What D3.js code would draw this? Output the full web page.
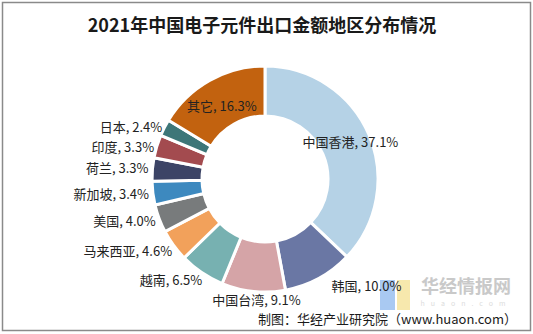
<!DOCTYPE html>
<html><head><meta charset="utf-8">
<script src="https://cdn.jsdelivr.net/npm/d3@7"></script>
<style>
html,body{margin:0;padding:0;background:#fff;}
svg{display:block;font-family:"Noto Sans CJK SC","Noto Sans",sans-serif;}
</style></head>
<body>
<svg id="chart" width="533" height="334"></svg>
<script>
const title = "2021年中国电子元件出口金额地区分布情况";
const regions = ["中国香港","韩国","中国台湾","越南","马来西亚","美国","新加坡","荷兰","印度","日本","其它"];
const shares = [37.1,10.0,9.1,6.5,4.6,4.0,3.4,3.3,3.3,2.4,16.3];
const colors = ["#b5d2e6","#6a77a4","#d5a4a7","#77b1b1","#f2a15b","#787b7c","#3d89bf","#3c4466","#a34b4f","#3d7678","#c2620f"];
const insideLabels = ["中国香港","其它"];
const source = "制图：华经产业研究院（www.huaon.com）";

const svg = d3.select("#chart");

// frame
svg.append("rect").attr("x",2.5).attr("y",2.5).attr("width",528).attr("height",328)
  .attr("fill","#fff").attr("stroke","#8a8a8a").attr("stroke-width",1.5);

// watermark (behind the chart texts)
const wm = svg.append("g");
wm.append("rect").attr("x",380).attr("y",280).attr("width",15).attr("height",30).attr("fill","#a9c9f2");
wm.append("rect").attr("x",397).attr("y",280).attr("width",13).attr("height",30).attr("fill","#f7e8ad");
wm.append("text").attr("x",466).attr("y",293).attr("text-anchor","middle").attr("font-size",18)
  .attr("font-weight","bold").attr("fill","#c9c9c9").text("华经情报网");
wm.append("text").attr("x",466).attr("y",306).attr("text-anchor","middle").attr("font-size",7)
  .attr("letter-spacing",6).attr("fill","#dcdcdc").text("huaon.com");

// title
svg.append("text").attr("x",262).attr("y",32).attr("text-anchor","middle")
  .attr("font-size",18).attr("font-weight","bold").attr("fill","#1a1a1a").text(title);

const cx = 265, cy = 179, R = 113, r0 = 63;
const g = svg.append("g").attr("transform",`translate(${cx},${cy})`);
const pie = d3.pie().sort(null).value(d=>d.v);
const data = regions.map((n,i)=>({n, v:shares[i], c:colors[i]}));
const arcs = pie(data);
const arc = d3.arc().innerRadius(r0).outerRadius(R);
g.selectAll("path").data(arcs).join("path")
  .attr("d",arc).attr("fill",d=>d.data.c)
  .attr("stroke","#fff").attr("stroke-width",3).attr("stroke-linejoin","miter");

const fmt = d3.format(".1f");
const labR = 121;
arcs.forEach(d=>{
  const a = (d.startAngle+d.endAngle)/2;
  const s = Math.sin(a), c = Math.cos(a);
  const txt = `${d.data.n}, ${fmt(d.data.v)}%`;
  let x, y, anchor;
  if (insideLabels.includes(d.data.n)) {
    const rm = (R+r0)/2 + (s > 0 ? 5 : 0);
    x = rm*s; y = -rm*c + (s < 0 ? 4 : 0); anchor = "middle";
  } else {
    x = labR*s; y = -labR*c;
    if (Math.abs(s) < 0.3) { anchor = "middle"; y += 1; x += 4; }
    else {
      anchor = s > 0 ? "start" : "end";
      if (c < -0.5) { x += s > 0 ? 9 : 5; y += 1; }
      else if (c > 0.2) { x += 5; y += 3; }
      else { x += 4; }
    }
  }
  g.append("text").attr("x",x).attr("y",y).attr("dy","0.35em")
    .attr("text-anchor",anchor).attr("font-size",13).attr("fill","#222").text(txt);
});

// source
svg.append("text").attr("x",517).attr("y",324).attr("text-anchor","end")
  .attr("font-size",13).attr("fill","#1a1a1a").text(source);
</script>
</body></html>
